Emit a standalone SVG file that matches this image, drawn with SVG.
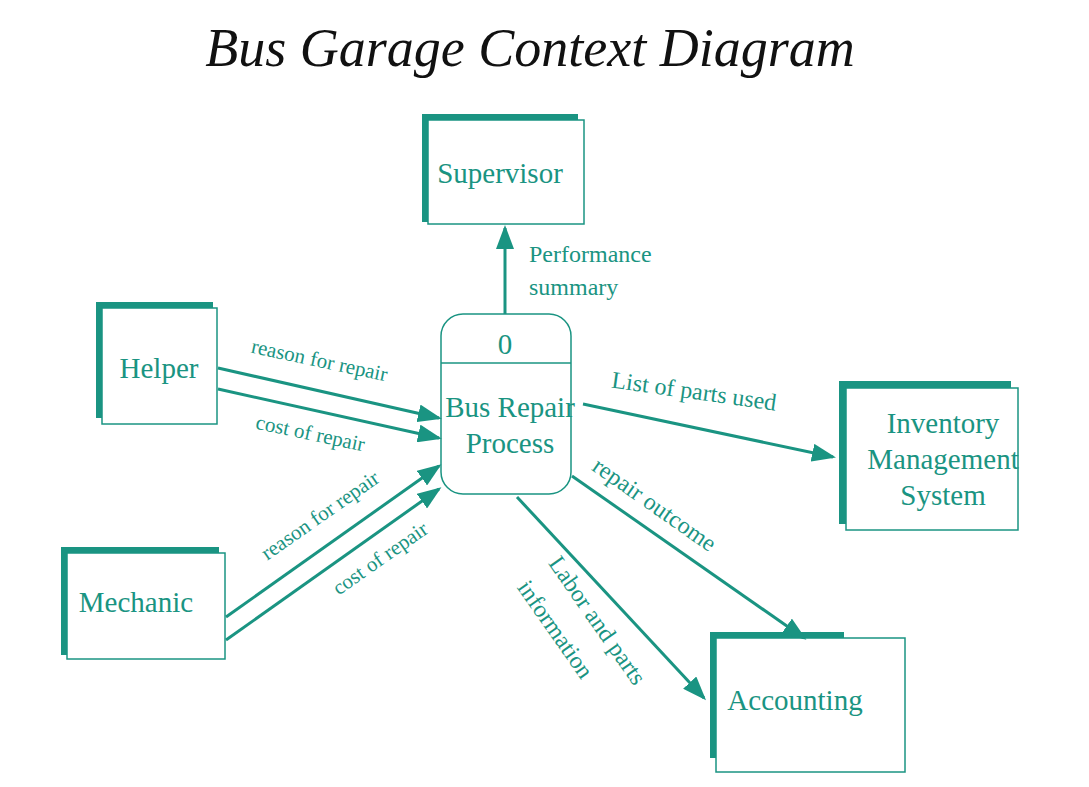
<svg xmlns="http://www.w3.org/2000/svg" width="1089" height="787" viewBox="0 0 1089 787">
<style>
text{font-family:"Liberation Serif",serif;fill:#1a9482}
.n{font-size:29px}
.l{font-size:21px}
.b{font-size:24px}
.thin{fill:#fff;stroke:#1a9482;stroke-width:1.5}
.thick{fill:#1a9482}
.c line{stroke:#1a9482;stroke-width:3;marker-end:url(#a)}
</style>
<defs><marker id="a" markerWidth="8" markerHeight="6" refX="7" refY="3" orient="auto" markerUnits="strokeWidth"><path d="M0,0L8,3L0,6z" fill="#1a9482"/></marker></defs>
<rect width="1089" height="787" fill="#fff"/>
<text x="530" y="66" text-anchor="middle" style="font-size:54px;font-style:italic;fill:#111">Bus Garage Context Diagram</text>
<g id="supervisor"><path class="thick" d="M422,114H578V120H428V222H422Z"/><rect class="thin" x="428" y="120" width="156" height="104"/><text class="n" x="500" y="183" text-anchor="middle">Supervisor</text></g>
<g id="helper"><path class="thick" d="M96,302H213V308H102V418H96Z"/><rect class="thin" x="102" y="308" width="115" height="116"/><text class="n" x="159" y="378" text-anchor="middle">Helper</text></g>
<g id="mechanic"><path class="thick" d="M61,547H219V553H67V655H61Z"/><rect class="thin" x="67" y="553" width="158" height="106"/><text class="n" x="136" y="612" text-anchor="middle">Mechanic</text></g>
<g id="inventory"><path class="thick" d="M839,381H1011V388H847V524H839Z"/><rect class="thin" x="846" y="388" width="172" height="142"/><text class="n" text-anchor="middle"><tspan x="943" y="433">Inventory</tspan><tspan x="943" y="469">Management</tspan><tspan x="943" y="505">System</tspan></text></g>
<g id="accounting"><path class="thick" d="M710,632H844V638H717V758H710Z"/><rect class="thin" x="716" y="638" width="189" height="134"/><text class="n" x="795" y="710" text-anchor="middle">Accounting</text></g>
<g id="process"><rect class="thin" x="441" y="314" width="130" height="180" rx="22"/><line x1="441" y1="363" x2="571" y2="363" stroke="#1a9482" stroke-width="1.5"/><text class="n" x="505" y="354" text-anchor="middle">0</text><text class="n" text-anchor="middle"><tspan x="510" y="417">Bus Repair</tspan><tspan x="510" y="453">Process</tspan></text></g>
<g class="c">
<line x1="505" y1="314" x2="505" y2="228"/>
<line x1="218" y1="368" x2="439" y2="418"/>
<line x1="218" y1="389" x2="439" y2="438"/>
<line x1="226" y1="617" x2="439" y2="466"/>
<line x1="226" y1="640" x2="439" y2="489"/>
<line x1="583" y1="404" x2="833" y2="457"/>
<line x1="572" y1="476" x2="804" y2="638"/>
<line x1="517" y1="497" x2="704" y2="698"/>
</g>
<g id="labels">
<text class="b" x="529" y="262">Performance</text>
<text class="b" x="529" y="295">summary</text>
<text class="l" text-anchor="middle" transform="translate(318,367) rotate(12)">reason for repair</text>
<text class="l" text-anchor="middle" transform="translate(309,440) rotate(12)">cost of repair</text>
<text class="l" text-anchor="middle" transform="translate(324,521) rotate(-35)">reason for repair</text>
<text class="l" text-anchor="middle" transform="translate(384,564) rotate(-35)">cost of repair</text>
<text class="b" text-anchor="middle" transform="translate(693,399) rotate(8)">List of parts used</text>
<text class="b" text-anchor="middle" transform="translate(650,511) rotate(35)">repair outcome</text>
<text class="b" text-anchor="middle" transform="translate(591,625) rotate(55)">Labor and parts</text>
<text class="b" text-anchor="middle" transform="translate(549,634) rotate(55)">information</text>
</g>
</svg>
